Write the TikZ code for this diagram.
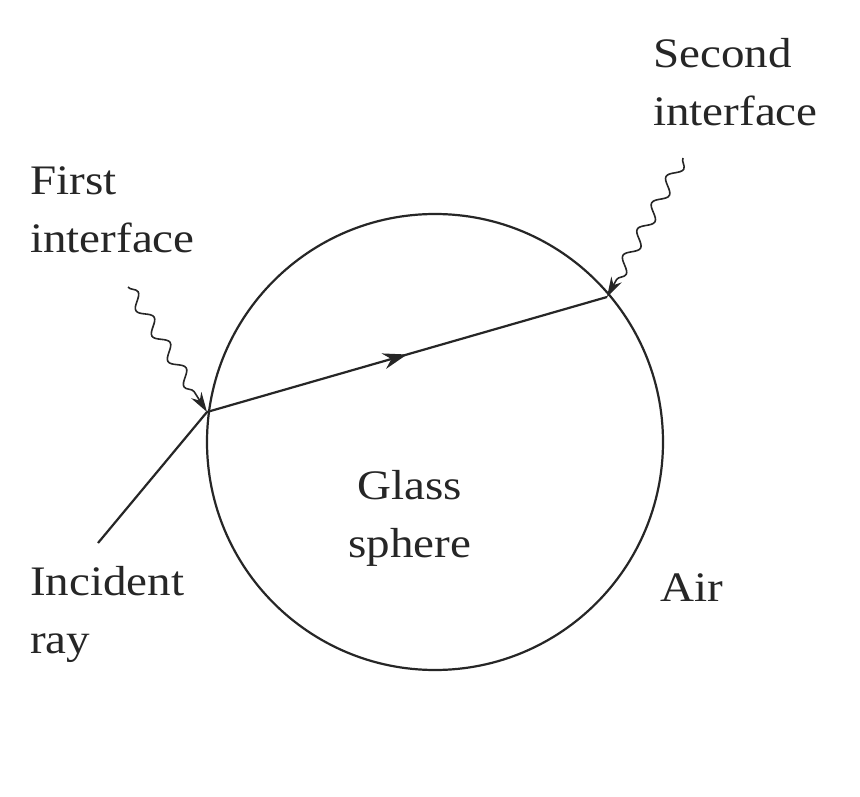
\documentclass[tikz,border=0pt]{standalone}
\usepackage{fontspec}
\setmainfont[FakeStretch=1.12]{Liberation Serif}
\usetikzlibrary{decorations.pathmorphing,decorations.markings,arrows.meta}
\begin{document}
\begin{tikzpicture}[x=1pt,y=-1pt,
  ln/.style={line width=2.2pt,black!85},
  lbl/.style={font=\fontsize{42}{58}\selectfont,align=left,text=black!85,inner sep=0},
  wavy/.style={line width=1.6pt,black!85,decorate,decoration={snake,amplitude=6pt,segment length=30pt,post length=16pt},-{Stealth[length=20pt,width=12pt]}}]
\useasboundingbox[fill=white] (0,0) rectangle (860,797);
\node[draw,circle,ln,minimum size=456pt,inner sep=0] (s) at (435,442) {};
\coordinate (p1) at (207,412);
\coordinate (p2) at (607,297);
\coordinate (inc) at (98,543);
\draw[ln] (inc) -- (p1);
\draw[ln,postaction={decorate},decoration={markings,mark=at position 0.5 with {\arrow{Stealth[length=24pt,width=16pt]}}}] (p1) -- (p2);
\coordinate (w1) at (128,287);
\coordinate (w2) at (683,158);
\draw[wavy] (w1) -- (p1);
\draw[wavy] (w2) -- (p2);
\node[lbl,anchor=north west] (t1) at (30,166) {First\\interface};
\node[lbl,anchor=north west] (t2) at (653,38) {Second\\interface};
\node[lbl,align=center] (t3) at (410,518) {Glass\\sphere};
\node[lbl,anchor=north west] (t4) at (30,566) {Incident\\ray};
\node[lbl,anchor=west] (t5) at (660,588) {Air};
\end{tikzpicture}
\end{document}
